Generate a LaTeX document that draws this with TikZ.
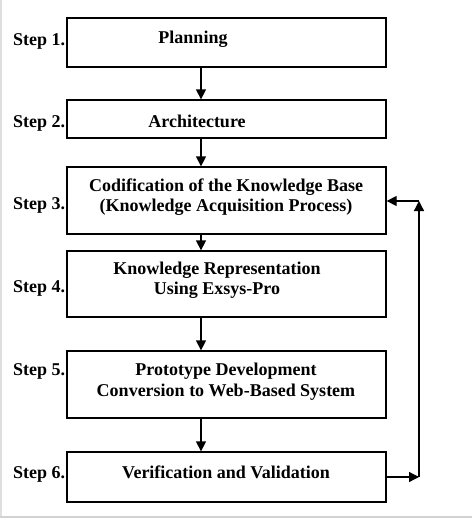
\documentclass[tikz,border=0pt]{standalone}
\usepackage{fontspec}
\setmainfont{Liberation Serif}
\usetikzlibrary{arrows.meta, positioning, calc}

\tikzset{
    box/.style={draw, line width=1.3pt, minimum width=319pt, inner sep=0pt},
    boxtext/.style={font=\bfseries\fontsize{18}{20.5}\selectfont, align=center, inner sep=0pt},
    steplabel/.style={font=\bfseries\fontsize{18}{20.5}\selectfont, anchor=west, inner sep=0pt},
    flow/.style={line width=1.3pt, -{Triangle[length=10pt, width=10pt]}}
}

\begin{document}
\begin{tikzpicture}[x=1pt, y=-1pt]
    \useasboundingbox (0,0) rectangle (474,519);
    % Frame
    \fill[gray!25] (0,0) rectangle (2,517);
    \fill[gray!35] (0,516) rectangle (472,518);

    % Boxes
    \node[box, minimum height=49pt] (b1) at (226.5, 42.5) {};
    \node[box, minimum height=38pt] (b2) at (226.5, 119) {};
    \node[box, minimum height=67pt] (b3) at (226.5, 200.5) {};
    \node[box, minimum height=66pt] (b4) at (226.5, 284) {};
    \node[box, minimum height=67pt] (b5) at (226.5, 384.5) {};
    \node[box, minimum height=50pt] (b6) at (226.5, 477) {};

    % Texts
    \node[boxtext] (t1) at (193, 39) {Planning};
    \node[boxtext] (t2) at (197, 121) {Architecture};
    \node[boxtext] (t3) at (226, 197) {Codification of the Knowledge Base\\(Knowledge Acquisition Process)};
    \node[boxtext] (t4) at (217, 280) {Knowledge Representation\\Using Exsys-Pro};
    \node[boxtext] (t5) at (226, 381.5) {Prototype Development\\Conversion to Web-Based System};
    \node[boxtext] (t6) at (226, 472) {Verification and Validation};

    % Step labels
    \foreach \n/\y in {1/41, 2/123, 3/205, 4/288, 5/371, 6/474}
        \node[steplabel] (s\n) at (13, \y) {Step \n.};

    % Arrows
    \coordinate (spine) at (201, 0);
    \draw[flow] (b1.south -| spine) -- (b2.north -| spine);
    \draw[flow] (b2.south -| spine) -- (b3.north -| spine);
    \draw[flow] (b3.south -| spine) -- (b4.north -| spine);
    \draw[flow] (b4.south -| spine) -- (b5.north -| spine);
    \draw[flow] (b5.south -| spine) -- (b6.north -| spine);

    % Feedback loop
    \coordinate (ret) at (419, 201);
    \draw[flow] (b6.east) -- (b6.east -| ret);
    \draw[flow] (b6.east -| ret) -- (ret);
    \draw[flow] (ret) -- (ret -| b3.east);
\end{tikzpicture}
\end{document}
